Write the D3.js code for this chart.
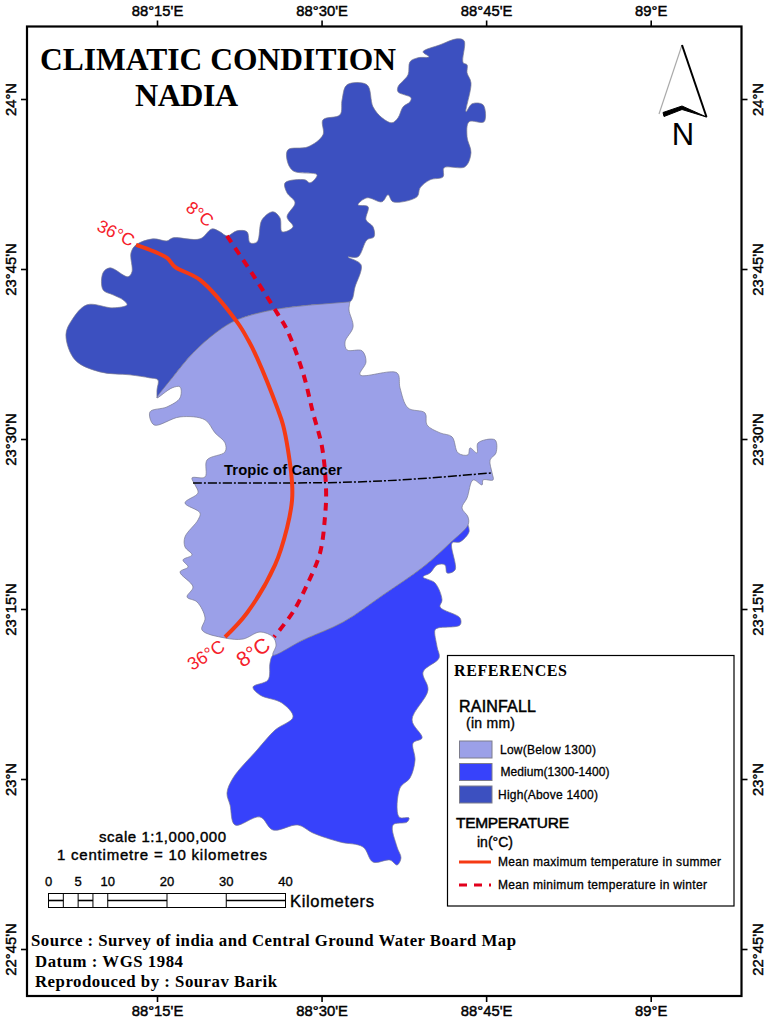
<!DOCTYPE html>
<html>
<head>
<meta charset="utf-8">
<script src="https://cdn.jsdelivr.net/npm/d3@7"></script>
<style>
body { margin: 0; background: #fff; }
svg { display: block; }
</style>
</head>
<body>
<svg id="map" width="768" height="1024"></svg>
<script>
// all outlines are [minutes east of 88E, minutes north of 23N]
var lonTicks = [15, 30, 45, 60]
var latTicks = [60, 45, 30, 15, 0, -15]

var highEdge = [[15.00,33.63],[15.00,34.33],[15.09,35.21],[14.36,35.39],[12.54,35.66],[9.80,35.92],[7.53,36.98],[6.70,39.19],[7.25,40.51],[8.62,41.84],[10.99,41.57],[12.27,41.84],[11.90,42.28],[10.99,42.72],[10.08,43.16],[10.08,44.66],[10.72,45.10],[12.36,44.31],[12.72,44.75],[12.63,46.42],[13.09,47.13],[14.64,47.66],[15.91,47.48],[16.46,47.75],[18.92,47.66],[20.01,48.54],[20.74,48.28],[21.38,47.92],[22.29,48.37],[23.20,48.28],[23.48,47.31],[24.12,47.39],[24.57,49.34],[25.57,50.05],[26.21,49.51],[26.40,48.28],[27.40,48.72],[26.85,49.60],[27.58,50.84],[26.85,51.72],[26.67,52.60],[28.49,52.87],[28.95,52.60],[29.59,53.31],[27.40,53.66],[26.85,54.63],[26.94,55.52],[28.77,55.78],[30.13,56.84],[30.13,58.16],[31.68,58.60],[31.87,59.93],[32.32,61.25],[34.14,61.25],[34.69,59.31],[35.51,58.34],[36.42,57.90],[36.97,58.34],[37.43,59.31],[38.06,59.75],[38.15,60.11],[36.97,60.63],[36.97,61.08],[37.88,62.14],[38.06,63.28],[38.79,63.64],[39.80,63.72],[39.25,64.16],[40.80,64.78],[42.35,65.31],[42.99,65.14],[42.90,63.20],[43.26,63.02],[43.26,62.31],[43.62,61.43],[43.17,58.87],[43.72,59.58],[44.72,59.49],[44.81,57.99],[43.44,57.99],[43.26,56.66],[43.62,55.25],[43.08,54.02],[41.16,53.93],[41.07,53.13],[39.89,52.87],[38.98,52.16],[38.70,51.37],[36.51,50.93],[36.06,51.55],[35.51,50.93],[34.14,51.28],[33.32,50.66],[34.24,50.49],[34.05,49.34],[34.69,48.72],[34.78,47.84],[34.14,47.57],[33.32,46.07],[32.41,46.07],[33.60,45.37],[33.05,43.42],[32.59,42.10]]
var highLowEdge = [[32.59,42.10],[29.22,41.84],[25.57,41.39],[22.29,40.51],[20.47,39.45],[18.30,37.60],[16.46,35.48],[15.00,33.63]]
var lowEast = [[32.59,42.10],[32.50,41.39],[32.87,39.89],[32.14,38.57],[32.32,37.86],[33.69,37.78],[34.05,36.80],[33.51,35.66],[36.88,35.83],[37.15,34.51],[37.88,32.74],[39.43,32.30],[39.61,31.24],[40.80,30.54],[41.89,30.19],[42.44,28.77],[43.35,28.60],[43.53,29.21],[44.17,28.77],[44.26,29.65],[45.81,29.92],[45.90,28.77],[45.36,28.15],[45.54,27.01],[45.63,26.39],[44.72,26.39],[44.63,25.95],[43.81,26.39],[43.26,24.80],[42.80,23.92],[43.35,23.12]]
var lowMediumEdge = [[43.35,22.42],[41.71,20.83],[39.25,18.71],[35.60,16.24],[31.96,13.85],[28.31,12.27],[25.57,10.94]]
var lowWest = [[25.85,11.82],[25.57,12.53],[24.39,12.97],[22.84,12.35],[21.20,12.44],[19.10,13.15],[19.38,14.21],[18.65,15.62],[17.74,16.06],[18.28,16.95],[17.10,18.27],[17.83,18.71],[17.37,19.33],[18.19,19.77],[17.55,20.48],[17.55,21.36],[18.74,22.86],[18.92,23.48],[17.55,24.36],[18.74,25.24],[18.47,25.95],[18.19,26.57],[19.38,26.65],[19.56,28.15],[21.20,28.86],[21.20,29.66],[20.29,30.54],[19.38,31.69],[17.10,31.95],[14.73,31.24],[14.36,32.39],[15.91,32.83],[17.10,33.63],[17.10,34.60],[16.37,34.51],[15.00,33.63]]
var mediumEdge = [[43.44,21.80],[42.62,20.92],[41.89,20.83],[42.17,18.45],[41.44,18.18],[41.25,18.89],[40.53,18.89],[39.89,18.18],[39.25,17.83],[40.34,17.30],[40.98,15.80],[40.80,15.18],[42.62,14.21],[42.62,13.59],[40.62,13.33],[40.34,13.15],[40.53,11.65],[40.71,10.68],[39.25,9.44],[39.70,7.85],[38.25,5.21],[39.16,3.62],[38.34,3.18],[38.52,1.68],[38.06,0.09],[37.15,-0.79],[37.06,-3.35],[37.97,-3.44],[37.79,-3.80],[36.51,-4.06],[36.88,-6.00],[37.24,-6.97],[36.88,-7.59],[36.24,-7.15],[34.69,-7.33],[33.78,-6.00],[31.68,-5.56],[29.22,-4.77],[27.85,-4.06],[25.57,-4.50],[24.39,-3.35],[22.11,-4.06],[21.66,-2.30],[21.38,-1.24],[21.93,0.09],[24.12,2.56],[25.76,4.32],[27.40,5.47],[26.40,6.70],[24.39,7.41],[23.75,8.12],[25.12,8.74],[25.30,10.24]]

var maxTemp = [[13.09,47.13],[15.91,45.98],[16.64,45.19],[18.92,44.04],[22.29,40.33],[23.30,38.75],[24.12,37.16],[26.03,32.57],[26.49,31.24],[26.94,29.04],[27.31,26.12],[27.31,24.62],[26.85,22.15],[25.76,18.89],[23.20,14.65],[21.20,12.53]]
var minTemp = [[21.38,47.92],[23.75,44.48],[25.94,41.13],[26.85,39.63],[28.31,35.83],[29.22,32.31],[30.04,29.30],[30.41,25.51],[30.31,23.12],[29.86,19.95],[28.67,17.12],[27.40,14.74],[25.67,12.53]]
var tropic = [[18.28,26.12],[27.40,26.12],[33.23,26.21],[38.70,26.48],[45.54,27.01]]

var rainLabels = ["Low(Below 1300)", "Medium(1300-1400)", "High(Above 1400)"]
var rainColors = ["#9ba0e8", "#3742fb", "#3c50c0"]
var scaleTicks = [0, 5, 10, 20, 30, 40]
var scaleCuts = [0, 2.5, 5, 7.5, 10, 20, 30, 40]

var SANS = "'Liberation Sans', Arial, sans-serif"
var SERIF = "'Liberation Serif', 'Times New Roman', serif"
var HOT = "#f53a14"
var COLD = "#e2001c"

var svg = d3.select("#map")
var x = d3.scaleLinear().domain([15, 60]).range([157, 650.7])
var y = d3.scaleLinear().domain([60, -15]).range([99, 949])

var outline = d3.line()
    .x(function(d){ return x(d[0]) })
    .y(function(d){ return y(d[1]) })
    .curve(d3.curveCatmullRom.alpha(0.5))

var drawRegion = function(points, fill){
    svg.append("path")
        .attr("d", outline(points) + "Z")
        .attr("fill", fill)
        .attr("stroke", "#77798f")
        .attr("stroke-width", 0.7)
}

var reversed = function(list){ return list.slice().reverse() }

drawRegion(highEdge.concat(highLowEdge.slice(1)), rainColors[2])
drawRegion(lowMediumEdge.slice(0, 1).concat(mediumEdge, lowMediumEdge.slice(-1), reversed(lowMediumEdge).slice(1)), rainColors[1])
drawRegion(lowEast.concat(lowMediumEdge, lowWest, reversed(highLowEdge).slice(1, -1)), rainColors[0])

svg.append("path").attr("d", outline(tropic))
    .attr("fill", "none").attr("stroke", "#000").attr("stroke-width", 1.5)
    .attr("stroke-dasharray", "9 2 2 2")
svg.append("path").attr("d", outline(maxTemp))
    .attr("fill", "none").attr("stroke", HOT).attr("stroke-width", 4)
svg.append("path").attr("d", outline(minTemp))
    .attr("fill", "none").attr("stroke", COLD).attr("stroke-width", 4)
    .attr("stroke-dasharray", "8 6.5")

var label = function(txt, px, py, size, opts){
    opts = opts || {}
    var t = svg.append("text")
        .attr("x", px).attr("y", py)
        .attr("font-family", opts.family || SANS)
        .attr("font-size", size)
        .attr("font-weight", opts.weight || "normal")
        .attr("fill", opts.fill || "#000")
        .attr("text-anchor", opts.anchor || "start")
        .text(txt)
    if (opts.width) t.attr("textLength", opts.width).attr("lengthAdjust", "spacing")
    if (opts.rotate) t.attr("transform", "rotate(" + opts.rotate + " " + px + " " + py + ")")
    if (opts.heavy) t.attr("stroke", opts.fill || "#000").attr("stroke-width", opts.heavy)
    return t
}

// isotherm end labels
label("36°C", 116, 233, 17.5, {fill: "#f5202a", anchor: "middle", rotate: 26}).attr("dy", "0.35em")
label("8°C", 200, 214, 17.5, {fill: "#f5202a", anchor: "middle", rotate: 38}).attr("dy", "0.35em")
label("36°C", 206, 655, 18, {fill: "#f5202a", anchor: "middle", rotate: -32}).attr("dy", "0.35em")
label("8°C", 253, 652, 21, {fill: "#f5202a", anchor: "middle", rotate: -34}).attr("dy", "0.35em")
label("Tropic of Cancer", 224, 475, 14.8, {weight: "bold", width: 118})

// frame and graticule ticks
svg.append("rect").attr("x", 27).attr("y", 26.5).attr("width", 714.5).attr("height", 969.5)
    .attr("fill", "none").attr("stroke", "#000").attr("stroke-width", 2.2)

var lonFormat = function(d){ return d == 60 ? "89°E" : "88°" + d + "'E" }
var latFormat = function(d){
    if (d == 60) return "24°N"
    if (d == 0) return "23°N"
    return d < 0 ? "22°45'N" : "23°" + d + "'N"
}

var styleAxis = function(g, offset){
    g.select(".domain").remove()
    g.selectAll("line").attr("stroke", "#000").attr("stroke-width", 1.6)
    g.selectAll("text")
        .attr("font-family", SANS).attr("font-size", 14.8).attr("fill", "#000")
        .attr("stroke", "#000").attr("stroke-width", 0.45)
    if (offset) {
        g.selectAll("text")
            .attr("x", 0).attr("y", 0).attr("dy", "0.35em")
            .attr("text-anchor", "middle")
            .attr("transform", "translate(" + offset + ",0) rotate(-90)")
    }
}

svg.append("g").attr("transform", "translate(0,26.5)")
    .call(d3.axisTop(x).tickValues(lonTicks).tickFormat(lonFormat).tickSize(6).tickPadding(5))
    .call(styleAxis)
svg.append("g").attr("transform", "translate(0,996)")
    .call(d3.axisBottom(x).tickValues(lonTicks).tickFormat(lonFormat).tickSize(6).tickPadding(3))
    .call(styleAxis)
svg.append("g").attr("transform", "translate(27,0)")
    .call(d3.axisLeft(y).tickValues(latTicks).tickFormat(latFormat).tickSize(6))
    .call(styleAxis, -16)
svg.append("g").attr("transform", "translate(741.5,0)")
    .call(d3.axisRight(y).tickValues(latTicks).tickFormat(latFormat).tickSize(6))
    .call(styleAxis, 16)

// title
label("CLIMATIC CONDITION", 40, 70, 31.5, {family: SERIF, weight: "bold", width: 356})
label("NADIA", 135, 106, 32, {family: SERIF, weight: "bold", width: 103})

// north arrow
svg.append("path").attr("d", "M682,45L659,114").attr("stroke", "#aaa").attr("stroke-width", 1.2)
svg.append("path").attr("d", "M682,45L706.5,117").attr("stroke", "#000").attr("stroke-width", 2)
svg.append("path").attr("d", "M663,112.5L682,106L706.5,117L682,109.5L664,116.5Z").attr("fill", "#000").attr("stroke", "#000")
label("N", 683, 145, 31, {anchor: "middle"})

// legend
svg.append("rect").attr("x", 447.5).attr("y", 655.5).attr("width", 286.5).attr("height", 250.5)
    .attr("fill", "#fff").attr("stroke", "#000").attr("stroke-width", 1.2)
label("REFERENCES", 454, 676, 16, {family: SERIF, weight: "bold", width: 113})
label("RAINFALL", 459, 712, 16, {heavy: 0.5, width: 77})
label("(in mm)", 466, 728, 14, {heavy: 0.35, width: 49})

var rainY = d3.scalePoint().domain(rainLabels).range([749.5, 794.5])
var rainX = {"Low(Below 1300)": 500, "Medium(1300-1400)": 500.5, "High(Above 1400)": 498}
var rainW = {"Low(Below 1300)": 96, "Medium(1300-1400)": 109, "High(Above 1400)": 100}
rainLabels.forEach(function(name, i){
    svg.append("rect").attr("x", 459.5).attr("y", rainY(name) - 8.5).attr("width", 32.5).attr("height", 17)
        .attr("fill", rainColors[i]).attr("stroke", "#7c7c8c").attr("stroke-width", 1)
    label(name, rainX[name], rainY(name) + 4, 12, {heavy: 0.3, width: rainW[name]})
})

label("TEMPERATURE", 456, 828, 15.5, {heavy: 0.5, width: 113})
label("in(°C)", 477, 847, 14, {heavy: 0.4})
svg.append("line").attr("x1", 459).attr("x2", 491).attr("y1", 862).attr("y2", 862)
    .attr("stroke", HOT).attr("stroke-width", 3)
svg.append("line").attr("x1", 459).attr("x2", 491).attr("y1", 885).attr("y2", 885)
    .attr("stroke", COLD).attr("stroke-width", 3).attr("stroke-dasharray", "8 7")
label("Mean maximum temperature in summer", 498, 866, 12, {heavy: 0.3, width: 223})
label("Mean minimum temperature in winter", 498, 889, 12, {heavy: 0.3, width: 209})

// scale bar
label("scale 1:1,000,000", 99, 842, 15, {heavy: 0.4, width: 127})
label("1 centimetre = 10 kilometres", 57, 860, 15, {heavy: 0.4, width: 210})

var km = d3.scaleLinear().domain([0, 40]).range([48.5, 285.5])
scaleTicks.forEach(function(d){
    label(d, km(d), 886, 13, {anchor: "middle", heavy: 0.35})
})
svg.append("rect").attr("x", km(0)).attr("y", 893.5).attr("width", km(40) - km(0)).attr("height", 14)
    .attr("fill", "#fff").attr("stroke", "#000").attr("stroke-width", 1)
scaleCuts.forEach(function(d, i){
    svg.append("line").attr("x1", km(d)).attr("x2", km(d)).attr("y1", 893.5).attr("y2", 907.5)
        .attr("stroke", "#000").attr("stroke-width", 1)
    if (i % 2 == 0 && i < scaleCuts.length - 1) {
        svg.append("line").attr("x1", km(d)).attr("x2", km(scaleCuts[i + 1])).attr("y1", 900.5).attr("y2", 900.5)
            .attr("stroke", "#000").attr("stroke-width", 1.6)
    }
})
label("Kilometers", 290, 907, 16.5, {heavy: 0.4, width: 84})

// credits
label("Source : Survey of india and Central Ground Water Board Map", 31, 946, 16.8, {family: SERIF, weight: "bold", width: 485})
label("Datum : WGS 1984", 35, 967, 16.8, {family: SERIF, weight: "bold", width: 148})
label("Reprodouced by : Sourav Barik", 35, 987, 16.8, {family: SERIF, weight: "bold", width: 242})
</script>
</body>
</html>
